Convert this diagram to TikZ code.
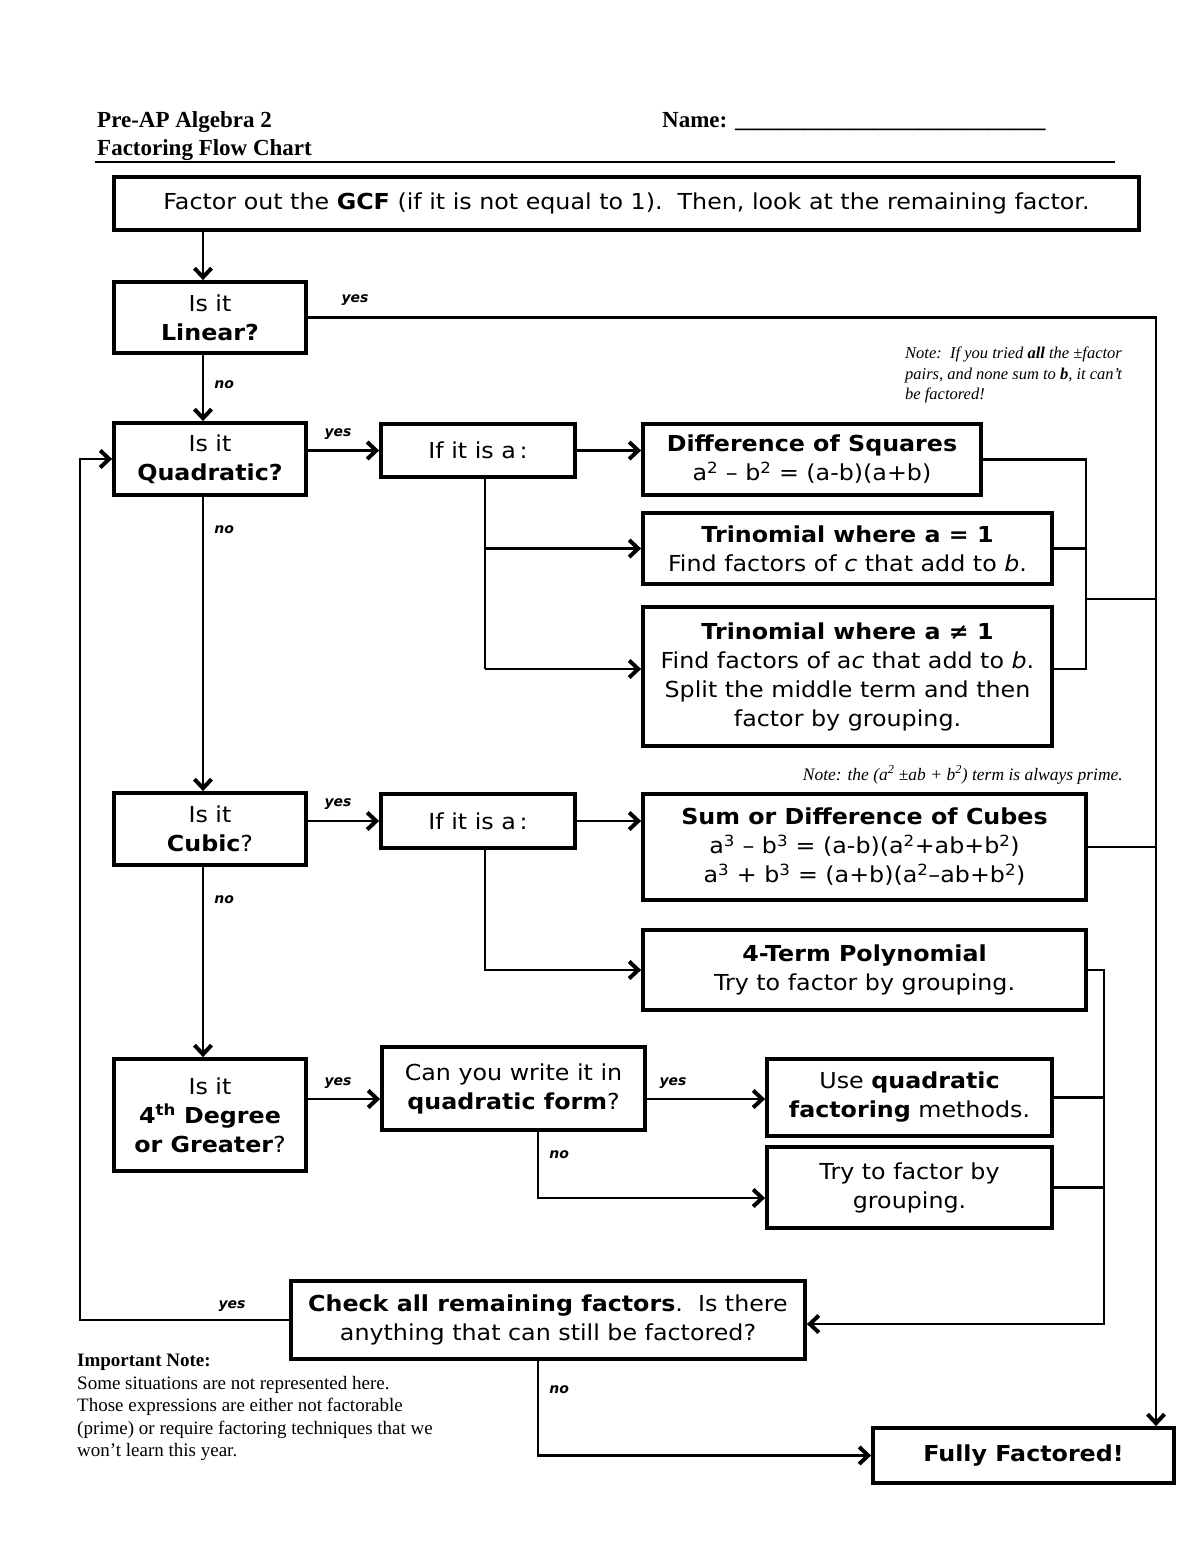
\documentclass[tikz,border=0pt]{standalone}
\usepackage{fontspec}
\usetikzlibrary{arrows.meta}
\newfontfamily\vfont[FakeStretch=1.08]{DejaVu Sans}
\newfontfamily\lfont{DejaVu Sans}
\newfontfamily\tfont{Liberation Serif}
\tikzset{
  box/.style={draw, line width=3.8pt, inner sep=0pt, align=center, font=\vfont\fontsize{22}{29}\selectfont},
  conn/.style={line width=2.6pt},
  arr/.style={line width=2.6pt, -{Straight Barb[length=9pt,width=17pt,line width=4pt]}},
  lbl/.style={font=\lfont\bfseries\itshape\fontsize{14}{16}\selectfont, inner sep=0pt},
  notes/.style={font=\tfont\itshape\fontsize{16.5}{20.5}\selectfont, inner sep=0pt, align=left},
}
\begin{document}
\begin{tikzpicture}[x=1pt,y=-1pt]
\useasboundingbox (0,0) rectangle (1200,1553);
% header
\node[anchor=base west, inner sep=0pt, font=\tfont\bfseries\fontsize{23}{28}\selectfont] (h1) at (97,127) {Pre-AP Algebra 2};
\node[anchor=base west, inner sep=0pt, font=\tfont\bfseries\fontsize{23}{28}\selectfont] (h2) at (97,155) {Factoring Flow Chart};
\node[anchor=base west, inner sep=0pt, font=\tfont\bfseries\fontsize{23}{28}\selectfont] (h3) at (662,127) {Name: \_\_\_\_\_\_\_\_\_\_\_\_\_\_\_\_\_\_\_\_\_\_\_\_\_\_\_};
\coordinate (rl) at (95,162);
\coordinate (rr) at (1115,162);
\draw[line width=2.5pt] (rl) -- (rr);

% boxes
\node[box, minimum width=1025pt, minimum height=53pt] (gcf) at (626.5,203.5) {Factor out the \textbf{GCF} (if it is not equal to 1).\ \ Then, look at the remaining factor.};
\node[box, minimum width=192pt, minimum height=71pt] (lin) at (210,317.5) {Is it\\\textbf{Linear?}};
\node[box, minimum width=192pt, minimum height=72pt] (quad) at (210,459) {Is it\\\textbf{Quadratic?}};
\node[box, minimum width=194pt, minimum height=53pt] (if1) at (478,450.5) {If it is a\,:};
\node[box, minimum width=338pt, minimum height=71pt] (dos) at (812,459.5) {\textbf{Difference of Squares}\\a\textsuperscript{2} – b\textsuperscript{2} = (a-b)(a+b)};
\node[box, minimum width=409pt, minimum height=71pt] (tri1) at (847.5,548.5) {\textbf{Trinomial where a = 1}\\Find factors of \textit{c} that add to \textit{b}.};
\node[box, minimum width=409pt, minimum height=139pt] (tri2) at (847.5,676.5) {\textbf{Trinomial where a ≠ 1}\\Find factors of a\textit{c} that add to \textit{b}.\\Split the middle term and then\\factor by grouping.};
\node[box, minimum width=192pt, minimum height=72pt] (cub) at (210,829) {Is it\\\textbf{Cubic}?};
\node[box, minimum width=194pt, minimum height=54pt] (if2) at (478,821) {If it is a\,:};
\node[box, minimum width=443pt, minimum height=106pt] (sdc) at (864.5,847) {\textbf{Sum or Difference of Cubes}\\a\textsuperscript{3} – b\textsuperscript{3} = (a-b)(a\textsuperscript{2}+ab+b\textsuperscript{2})\\a\textsuperscript{3} + b\textsuperscript{3} = (a+b)(a\textsuperscript{2}–ab+b\textsuperscript{2})};
\node[box, minimum width=443pt, minimum height=80pt] (poly) at (864.5,970) {\textbf{4-Term Polynomial}\\Try to factor by grouping.};
\node[box, minimum width=192pt, minimum height=112pt] (deg) at (210,1115) {Is it\\\textbf{4\textsuperscript{th} Degree}\\\textbf{or Greater}?};
\node[box, minimum width=263pt, minimum height=83pt] (can) at (513.5,1088.5) {Can you write it in\\\textbf{quadratic form}?};
\node[box, minimum width=285pt, minimum height=77pt] (use) at (909.5,1097.5) {Use \textbf{quadratic}\\\textbf{factoring} methods.};
\node[box, minimum width=285pt, minimum height=81pt] (try) at (909.5,1187.5) {Try to factor by\\grouping.};
\node[box, minimum width=514pt, minimum height=78pt] (chk) at (548,1320) {\textbf{Check all remaining factors}.\ \ Is there\\anything that can still be factored?};
\node[box, minimum width=301pt, minimum height=55pt] (ff) at (1023.5,1455.5) {\textbf{Fully Factored!}};

% notes
\node[notes, anchor=north west] (n1) at (905,347) {Note:\ \ If you tried \textbf{all} the ±factor\\pairs, and none sum to \textbf{b}, it can’t\\be factored!};
\node[notes, anchor=base east, font=\tfont\itshape\fontsize{17.5}{20.5}\selectfont] (n2) at (1123,780) {Note: the (a\textsuperscript{2} ±ab + b\textsuperscript{2}) term is always prime.};
\node[anchor=north west, inner sep=0pt, align=left, font=\tfont\fontsize{19}{22.5}\selectfont] (imp) at (77,1354) {\textbf{Important Note:}\\Some situations are not represented here.\\Those expressions are either not factorable\\(prime) or require factoring techniques that we\\won’t learn this year.};

% trunk coordinates
\coordinate (xa) at (203,0);
\coordinate (xb) at (485,0);
\coordinate (xc) at (538,0);
\coordinate (xd) at (1086,0);
\coordinate (xe) at (1104,0);
\coordinate (xf) at (1156,0);
\coordinate (xg) at (80,0);
\coordinate (yd) at (0,599);
\coordinate (yt2) at (0,669);
\coordinate (ydeg) at (0,1099);
\coordinate (ytry) at (0,1198);
\coordinate (ychk) at (0,1324);

% left column
\draw[arr] (gcf.south -| xa) -- (lin.north -| xa);
\draw[arr] (lin.south -| xa) -- node[lbl, right=10pt, pos=0.45] (no1) {no} (quad.north -| xa);
\draw[arr] (quad.south -| xa) -- node[lbl, right=10pt, pos=0.11] (no2) {no} (cub.north -| xa);
\draw[arr] (cub.south -| xa) -- node[lbl, right=10pt, pos=0.17] (no3) {no} (deg.north -| xa);

% linear yes
\draw[arr] (lin.east) -- (lin.east -| xf) -- (ff.north -| xf);
\node[lbl] (y1) at (355,300) {yes};

% quadratic
\draw[arr] (quad.east |- if1.west) -- (if1.west);
\node[lbl] (y2) at (338,434) {yes};
\draw[arr] (if1.east) -- (dos.west |- if1.east);
\draw[conn] (if1.south -| xb) -- (xb |- yt2);
\draw[arr] (xb |- tri1.west) -- (tri1.west);
\draw[arr] (xb |- yt2) -- (tri2.west |- yt2);
\draw[conn] (dos.east) -- (dos.east -| xd) -- (xd |- yt2) -- (tri2.east |- yt2);
\draw[conn] (tri1.east) -- (tri1.east -| xd);
\draw[conn] (xd |- yd) -- (xf |- yd);

% cubic
\draw[arr] (cub.east |- if2.west) -- (if2.west);
\node[lbl] (y3) at (338,804) {yes};
\draw[arr] (if2.east) -- (sdc.west |- if2.east);
\draw[arr] (if2.south -| xb) -- (xb |- poly.west) -- (poly.west);
\draw[conn] (sdc.east) -- (sdc.east -| xf);
\draw[arr] (poly.east) -- (poly.east -| xe) -- (xe |- ychk) -- (chk.east |- ychk);

% 4th degree
\draw[arr] (deg.east |- ydeg) -- (can.west |- ydeg);
\node[lbl] (y4) at (338,1083) {yes};
\draw[arr] (can.east |- ydeg) -- (use.west |- ydeg);
\node[lbl] (y5) at (673,1083) {yes};
\draw[arr] (can.south -| xc) -- node[lbl, right=10pt, pos=0.35] (no4) {no} (xc |- ytry) -- (try.west |- ytry);
\draw[conn] (use.east) -- (use.east -| xe);
\draw[conn] (try.east) -- (try.east -| xe);

% check
\draw[arr] (chk.west) -- (chk.west -| xg) -- (xg |- quad.west) -- (quad.west);
\node[lbl] (y6) at (232,1306) {yes};
\draw[arr] (chk.south -| xc) -- node[lbl, right=10pt, pos=0.3] (no5) {no} (xc |- ff.west) -- (ff.west);
\end{tikzpicture}
\end{document}
